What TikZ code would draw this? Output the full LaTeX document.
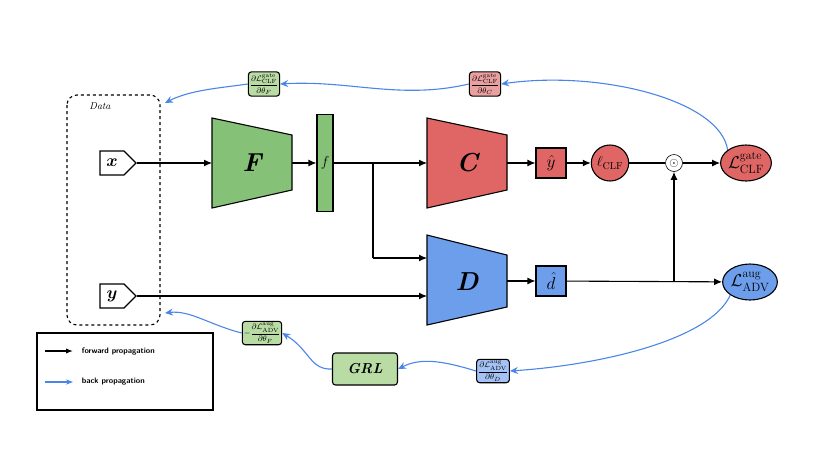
\documentclass[tikz,border=0pt]{standalone}
\usepackage{amsmath,amssymb}
\usetikzlibrary{shapes.symbols,shapes.geometric,arrows.meta}
\definecolor{gr}{HTML}{86C178}
\definecolor{grl}{HTML}{B9DCA5}
\definecolor{rd}{HTML}{E06666}
\definecolor{rdl}{HTML}{EBA0A0}
\definecolor{bl}{HTML}{6D9EEB}
\definecolor{bll}{HTML}{A4C2F4}
\definecolor{ba}{HTML}{4A86E8}
\begin{document}
\begin{tikzpicture}[x=1pt,y=-1pt,line width=1.1pt,
 fw/.style={draw,-{Latex[length=8pt,width=7pt]}},
 bk/.style={draw=ba,-{Stealth[length=8pt,width=7pt]}},
 gb/.style={draw,rounded corners=3pt,inner sep=1.5pt,font=\footnotesize},
 inp/.style={draw,signal,signal to=east,minimum width=36pt,minimum height=24pt,font=\LARGE,fill=white,inner sep=1pt},
 sq/.style={draw,minimum size=30pt,inner sep=0pt,font=\LARGE},
 trap/.style={draw}]
\useasboundingbox (0,0) rectangle (825,467);
\draw[dashed,rounded corners=10pt] (67,95) rectangle (160,325);
\node[font=\normalsize\itshape] (dl) at (100,106) {Data};
\node[inp] (x) at (112,163) {$\boldsymbol{x}$};
\node[inp] (y) at (112,296) {$\boldsymbol{y}$};
% F
\filldraw[trap,fill=gr] (212,118)--(292,135)--(292,190)--(212,208)--cycle;
\node[font=\fontsize{26}{28}\selectfont\bfseries\itshape] (F) at (252,163) {F};
\coordinate (Fl) at (212,163); \coordinate (Fr) at (292,163);
\node[draw,fill=gr,minimum width=16pt,minimum height=97pt,inner sep=0pt,font=\Large] (f) at (325,163) {$f$};
% C
\filldraw[trap,fill=rd] (427,118)--(507,135)--(507,190)--(427,208)--cycle;
\node[font=\fontsize{26}{28}\selectfont\bfseries\itshape] (C) at (467,163) {C};
\coordinate (Cl) at (427,163); \coordinate (Cr) at (507,163);
% D
\filldraw[trap,fill=bl] (427,235)--(507,255)--(507,307)--(427,325)--cycle;
\node[font=\fontsize{26}{28}\selectfont\bfseries\itshape] (D) at (467,282) {D};
\coordinate (Dr) at (507,281);
\coordinate (Dl1) at (427,258); \coordinate (Dl2) at (427,296);
\node[sq,fill=rd] (yh) at (551,163) {$\hat y$};
\node[sq,fill=bl] (dh) at (551,281) {$\hat d$};
\node[draw,ellipse,fill=rd,minimum width=28pt,minimum height=36pt,inner sep=0pt,font=\Large] (l) at (610,163) {$\ell_{\mathrm{CLF}}$};
\node[draw,line width=0.6pt,circle,minimum size=17pt,inner sep=0pt,font=\large] (o) at (674,163) {$\odot$};
\node[draw,ellipse,fill=rd,minimum width=50pt,minimum height=36pt,inner sep=0pt,font=\LARGE] (Lg) at (746,163) {$\mathcal{L}^{\text{gate}}_{\text{CLF}}$};
\node[draw,ellipse,fill=bl,minimum width=50pt,minimum height=36pt,inner sep=0pt,font=\LARGE] (La) at (750,282) {$\mathcal{L}^{\text{aug}}_{\text{ADV}}$};
\coordinate (br) at (373,163); \coordinate (bd) at (373,258); \coordinate (j) at (674,281);
\path[fw] (x.east) -- (Fl);
\path[fw] (Fr) -- (f);
\path[fw] (f) -- (Cl);
\draw (br) -- (bd);
\path[fw] (bd) -- (Dl1);
\path[fw] (y.east) -- (Dl2);
\path[fw] (Cr) -- (yh);
\path[fw] (yh) -- (l);
\draw (l) -- (o);
\path[fw] (o) -- (Lg);
\path[fw] (Dr) -- (dh);
\path[fw] (dh) -- (La);
\path[fw] (j) -- (o);
% gradient boxes
\node[gb,fill=grl] (g1) at (264,84) {$\dfrac{\partial\mathcal{L}^{\text{gate}}_{\text{CLF}}}{\partial\theta_F}$};
\node[gb,fill=rdl] (g2) at (485,84) {$\dfrac{\partial\mathcal{L}^{\text{gate}}_{\text{CLF}}}{\partial\theta_C}$};
\node[gb,fill=grl] (g3) at (262,333) {$-\dfrac{\partial\mathcal{L}^{\text{aug}}_{\text{ADV}}}{\partial\theta_F}$};
\node[gb,fill=bll] (g4) at (493,371) {$\dfrac{\partial\mathcal{L}^{\text{aug}}_{\text{ADV}}}{\partial\theta_D}$};
\node[draw,rounded corners=3pt,fill=grl,minimum width=65pt,minimum height=32pt,font=\Large\bfseries\itshape] (grl) at (365,369) {GRL};
\coordinate (dt) at (165,103); \coordinate (db) at (165,313);
\path[bk] (Lg.north west) .. controls (720,100) and (600,70) .. (g2.east);
\path[bk] (g2.west) .. controls (400,100) and (350,80) .. (g1.east);
\path[bk] (g1.west) .. controls (220,88) and (190,90) .. (dt);
\path[bk] (La.south west) .. controls (710,340) and (600,365) .. (g4.east);
\path[bk] (g4.west) .. controls (440,360) and (420,358) .. (grl.east);
\path[bk] (grl.west) .. controls (310,370) and (310,350) .. (g3.east);
\path[bk] (g3.west) .. controls (210,325) and (190,310) .. (db);
% legend
\draw (37,333) rectangle (213,410);
\coordinate (a1) at (45,351); \coordinate (a2) at (73,351);
\coordinate (b1) at (45,382); \coordinate (b2) at (73,382);
\path[draw,-{Latex[length=7pt]}] (a1) -- (a2);
\path[draw=ba,-{Stealth[length=7pt]}] (b1) -- (b2);
\node[anchor=west,font=\sffamily\bfseries\footnotesize] (t1) at (78,351) {forward propagation};
\node[anchor=west,font=\sffamily\bfseries\footnotesize] (t2) at (78,382) {back propagation};
\end{tikzpicture}
\end{document}
